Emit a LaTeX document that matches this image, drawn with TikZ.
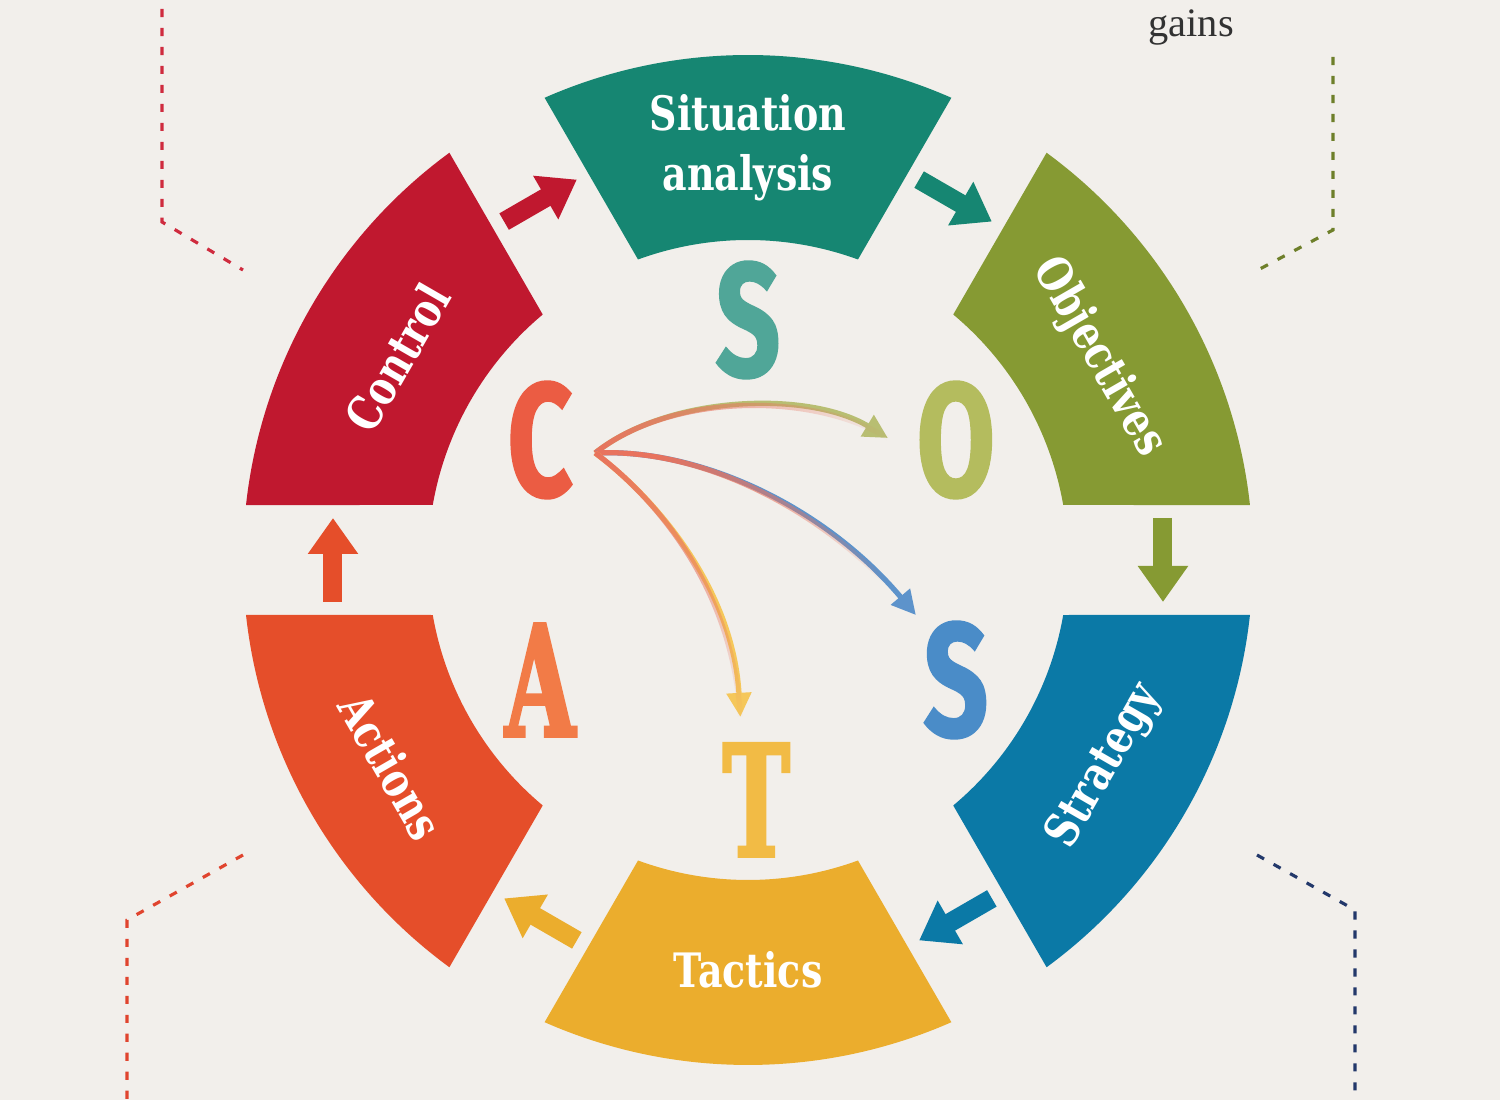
\documentclass[tikz,border=0pt]{standalone}
\usepackage{fontspec}
\usepackage{tikz}
\usetikzlibrary{arrows.meta,fadings,calc}
\setmainfont{Liberation Serif}
\newfontfamily\segfont[FakeStretch=0.8]{DejaVu Serif}
\newfontfamily\ltrfont[FakeStretch=0.7,FakeBold=1.2]{Fira Sans}
\newfontfamily\slabfont[FakeStretch=0.58,FakeBold=2]{DejaVu Serif}

\definecolor{paper}{RGB}{242,239,235}
\definecolor{ctrlred}{RGB}{192,24,47}
\definecolor{sitgreen}{RGB}{22,134,114}
\definecolor{objolive}{RGB}{134,154,51}
\definecolor{stratblue}{RGB}{11,121,166}
\definecolor{tacyellow}{RGB}{235,173,45}
\definecolor{actorange}{RGB}{229,78,42}
\definecolor{ltrS}{RGB}{80,166,152}
\definecolor{ltrO}{RGB}{180,188,94}
\definecolor{ltrSb}{RGB}{74,140,200}
\definecolor{ltrT}{RGB}{242,187,69}
\definecolor{ltrA}{RGB}{242,123,71}
\definecolor{ltrC}{RGB}{235,92,67}
\definecolor{fromC}{RGB}{232,115,94}
\definecolor{toO}{RGB}{184,190,114}
\definecolor{toS}{RGB}{93,147,203}
\definecolor{toT}{RGB}{245,199,90}
\definecolor{guidenavy}{RGB}{35,56,106}
\definecolor{guideolive}{RGB}{110,127,42}
\definecolor{guidered}{RGB}{207,43,62}
\definecolor{guideorange}{RGB}{224,68,46}
\definecolor{inkgray}{RGB}{50,50,50}

\begin{document}
\begin{tikzpicture}[>={Triangle[width=0.24cm,length=0.24cm]},
                    seglabel/.style={text=white,align=center,
                      font=\segfont\bfseries\fontsize{13.5}{17}\selectfont},
                    bigltr/.style={inner sep=0pt,
                      font=\ltrfont\bfseries\fontsize{46}{46}\selectfont},
                    slabltr/.style={inner sep=0pt,
                      font=\slabfont\bfseries\fontsize{44}{44}\selectfont},
                    blockarrow/.style={line width=0.19cm,
                      -{Triangle[width=0.48cm,length=0.36cm]}},
                    linkarrow/.style={line width=1.5pt},
                    guide/.style={line width=0.9pt,dash pattern=on 2.3pt off 3.1pt}]

  \fill[paper] (-7.48,-5.40) rectangle (7.52,5.60);
  \useasboundingbox (-7.48,-5.40) rectangle (7.52,5.60);

  % ring segments
  \foreach \a/\col in {90/sitgreen,30/objolive,-30/stratblue,-90/tacyellow,-150/actorange,150/ctrlred}
    \fill[\col] (\a-23.75:5.05) arc[start angle=\a-23.75,end angle=\a+23.75,radius=5.05]
      -- (\a+20.1:3.2) arc[start angle=\a+20.1,end angle=\a-20.1,radius=3.2] -- cycle;

  \node[seglabel]            (sit)   at (90:4.12)   {Situation\\analysis};
  \node[seglabel,rotate=-60] (obj)   at (30:4.05)   {Objectives};
  \node[seglabel,rotate=60]  (strat) at (-30:4.12)  {Strategy};
  \node[seglabel]            (tac)   at (-90:4.1)   {Tactics};
  \node[seglabel,rotate=-60] (act)   at (-150:4.12) {Actions};
  \node[seglabel,rotate=60]  (ctrl)  at (150:4.05)  {Control};

  % letters
  \node[bigltr,text=ltrS]   (S1) at (90:2.4)   {S};
  \node[bigltr,text=ltrO]   (O)  at (30:2.4)   {O};
  \node[bigltr,text=ltrSb]  (S2) at (-30:2.4)  {S};
  \node[slabltr,text=ltrT]  (T)  at (-88:2.4)  {T};
  \node[slabltr,text=ltrA]  (A)  at (-150:2.4) {A};
  \node[bigltr,text=ltrC]   (C)  at (150:2.4)  {C};

  % cycle arrows
  \foreach \a/\col [count=\i] in {120/ctrlred,60/sitgreen,0/objolive,-60/stratblue,-120/tacyellow,180/actorange}{
    \coordinate (bs\i) at ($(\a:4.15)+(\a+90:0.42)$);
    \coordinate (be\i) at ($(\a:4.15)+(\a-90:0.42)$);
    \draw[blockarrow,\col] (bs\i) -- (be\i);
  }

  % links from C
  \coordinate (cfrom) at ($(C)+(0.55,-0.13)$);
  \coordinate (endO)  at ($(O)+(-0.68,0.02)$);
  \coordinate (endS)  at ($(S2)+(-0.4,0.65)$);
  \coordinate (endT)  at ($(T)+(-0.16,0.83)$);

  \draw[linkarrow,toO,->] (cfrom) .. controls (-0.8,1.65) and (0.6,1.7) .. (endO);
  \draw[linkarrow,fromC,path fading=east] (cfrom) .. controls (-0.8,1.65) and (0.6,1.7) .. (endO);
  \draw[linkarrow,toS,->] (cfrom) .. controls (-0.5,1.12) and (0.75,0.55) .. (endS);
  \draw[linkarrow,fromC,path fading=east,fading angle=-35] (cfrom) .. controls (-0.5,1.12) and (0.75,0.55) .. (endS);
  \draw[linkarrow,toT,->] (cfrom) .. controls (-0.9,0.6) and (-0.15,-0.3) .. (endT);
  \draw[linkarrow,fromC,path fading=south] (cfrom) .. controls (-0.9,0.6) and (-0.15,-0.3) .. (endT);

  \node[anchor=base west,text=inkgray,font=\fontsize{11.5}{14}\selectfont] (gains) at (3.88,5.23) {gains};

  % dashed guides
  \draw[guide,guidered]    (-5.86,5.7) -- (-5.86,3.38) -- (-5.05,2.90);
  \draw[guide,guideolive]  (5.85,5.03) -- (5.85,3.30) -- (5.10,2.90);
  \draw[guide,guideorange] (-5.05,-2.95) -- (-6.21,-3.60) -- (-6.21,-5.5);
  \draw[guide,guidenavy]   (5.09,-2.95) -- (6.07,-3.50) -- (6.07,-5.5);
\end{tikzpicture}
\end{document}
